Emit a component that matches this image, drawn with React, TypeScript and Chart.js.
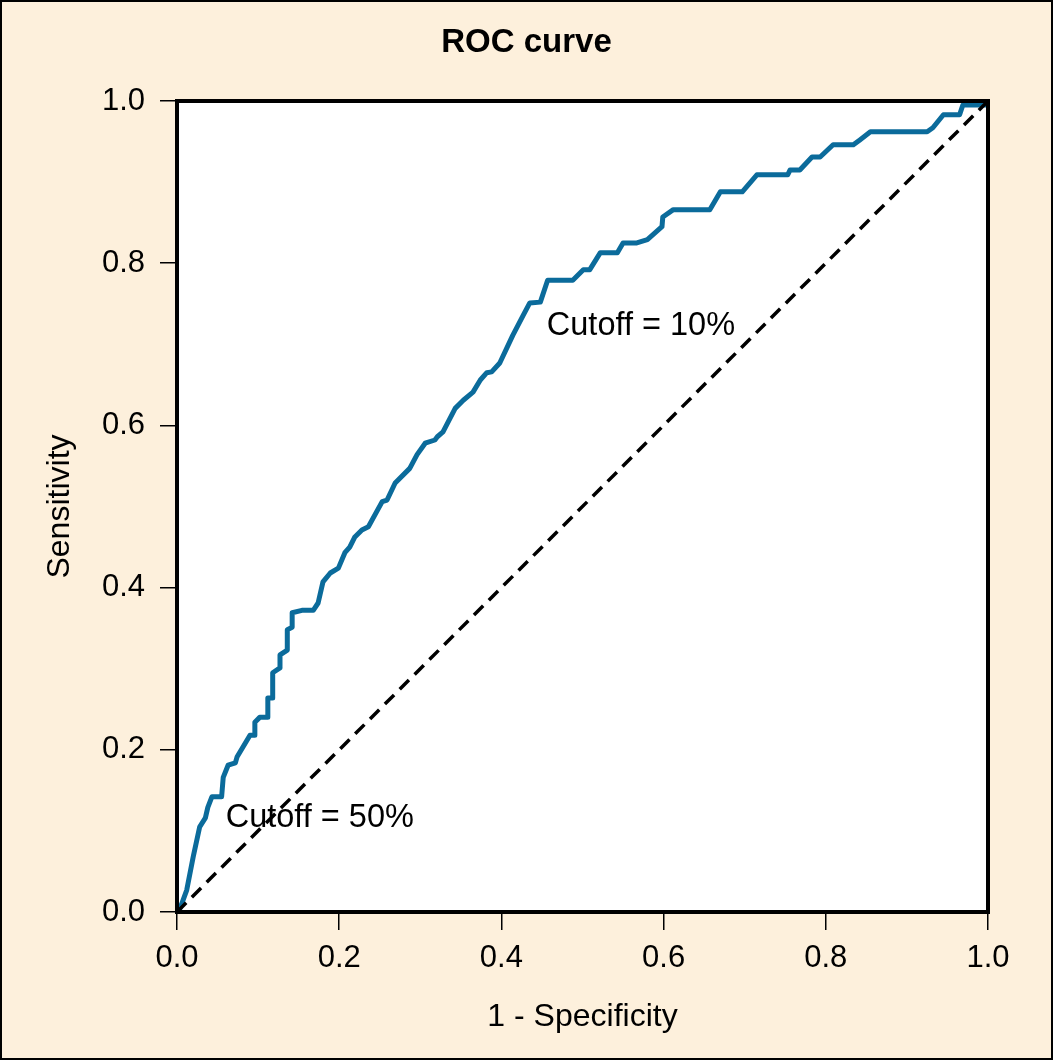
import React, { useEffect, useRef } from "react";
import { Chart, registerables } from "chart.js";

Chart.register(...registerables);

// ROC curve points (1 - specificity, sensitivity)
const fpr = [
  0, 0.004, 0.012, 0.02, 0.028, 0.035, 0.038, 0.043, 0.055, 0.057, 0.063, 0.072, 0.074,
  0.09, 0.096, 0.096, 0.102, 0.112, 0.112, 0.118, 0.118, 0.127, 0.127, 0.136, 0.136,
  0.142, 0.142, 0.154, 0.168, 0.174, 0.18, 0.189, 0.199, 0.207, 0.213, 0.219, 0.228,
  0.236, 0.253, 0.259, 0.269, 0.287, 0.296, 0.306, 0.318, 0.321, 0.328, 0.343, 0.353,
  0.365, 0.374, 0.382, 0.388, 0.398, 0.414, 0.427, 0.435, 0.448, 0.457, 0.488, 0.501,
  0.509, 0.522, 0.543, 0.55, 0.567, 0.58, 0.598, 0.599, 0.612, 0.657, 0.67, 0.697,
  0.715, 0.753, 0.756, 0.768, 0.783, 0.793, 0.809, 0.834, 0.842, 0.855, 0.925, 0.932,
  0.945, 0.965, 0.969, 0.999, 1.0,
];
const tpr = [
  0, 0.005, 0.027, 0.068, 0.105, 0.116, 0.129, 0.142, 0.142, 0.166, 0.181, 0.184, 0.191,
  0.218, 0.218, 0.234, 0.24, 0.24, 0.264, 0.264, 0.295, 0.301, 0.317, 0.323, 0.348,
  0.351, 0.369, 0.372, 0.372, 0.381, 0.407, 0.418, 0.424, 0.443, 0.45, 0.462, 0.471,
  0.475, 0.506, 0.508, 0.529, 0.547, 0.564, 0.578, 0.582, 0.586, 0.592, 0.621, 0.631,
  0.641, 0.656, 0.665, 0.666, 0.677, 0.711, 0.736, 0.751, 0.752, 0.779, 0.779, 0.792,
  0.792, 0.813, 0.813, 0.825, 0.825, 0.829, 0.845, 0.857, 0.866, 0.866, 0.888, 0.888,
  0.909, 0.909, 0.915, 0.915, 0.931, 0.931, 0.946, 0.946, 0.952, 0.962, 0.962, 0.967,
  0.983, 0.983, 0.995, 0.995, 1.0,
];

// chance line
const diagonalX = [0, 1];
const diagonalY = [0, 1];

// annotations (text baseline positions in data units)
const annotationTexts = ["Cutoff = 50%", "Cutoff = 10%"];
const annotationX = [0.06, 0.456];
const annotationY = [0.105, 0.711];

const titleText = "ROC curve";
const xTitle = "1 - Specificity";
const yTitle = "Sensitivity";

const FONT = '"Liberation Sans", Arial, Helvetica, sans-serif';
const BEIGE = "#fdf0dc";
const BLUE = "#0b6b9b";

export default function App() {
  const ref = useRef<HTMLCanvasElement | null>(null);

  useEffect(() => {
    document.body.style.margin = "0";
    const canvas = ref.current;
    if (!canvas) return;

    const framePlugin = {
      id: "frame",
      beforeDraw(chart: any) {
        const { ctx, chartArea } = chart;
        ctx.save();
        ctx.fillStyle = BEIGE;
        ctx.fillRect(0, 0, chart.width, chart.height);
        ctx.fillStyle = "#ffffff";
        ctx.fillRect(
          chartArea.left,
          chartArea.top,
          chartArea.right - chartArea.left,
          chartArea.bottom - chartArea.top
        );
        ctx.restore();
      },
      afterDraw(chart: any) {
        const { ctx, chartArea } = chart;
        ctx.save();
        ctx.strokeStyle = "#000";
        ctx.lineWidth = 4;
        ctx.strokeRect(
          chartArea.left,
          chartArea.top,
          chartArea.right - chartArea.left,
          chartArea.bottom - chartArea.top
        );
        ctx.lineWidth = 2;
        ctx.strokeRect(1, 1, chart.width - 2, chart.height - 2);
        ctx.restore();
      },
    };

    const annotationPlugin = {
      id: "annotations",
      afterDatasetsDraw(chart: any) {
        const { ctx, scales } = chart;
        ctx.save();
        ctx.font = `32.5px ${FONT}`;
        ctx.fillStyle = "#000";
        ctx.textAlign = "left";
        ctx.textBaseline = "alphabetic";
        annotationTexts.forEach((t, i) => {
          ctx.fillText(
            t,
            scales.x.getPixelForValue(annotationX[i]),
            scales.y.getPixelForValue(annotationY[i])
          );
        });
        ctx.restore();
      },
    };

    const chart = new Chart(canvas, {
      type: "line",
      data: {
        datasets: [
          {
            label: "Chance",
            data: diagonalX.map((x, i) => ({ x, y: diagonalY[i] })),
            borderColor: "#000",
            borderWidth: 3.5,
            borderDash: [13, 8],
            pointRadius: 0,
            fill: false,
            tension: 0,
          },
          {
            label: "ROC",
            data: fpr.map((x, i) => ({ x, y: tpr[i] })),
            borderColor: BLUE,
            borderWidth: 5,
            pointRadius: 0,
            fill: false,
            tension: 0,
            borderJoinStyle: "round",
            borderCapStyle: "round",
          },
        ],
      },
      options: {
        animation: false,
        responsive: false,
        maintainAspectRatio: false,
        layout: { padding: 0 },
        plugins: {
          legend: { display: false },
          tooltip: { enabled: false },
          title: {
            display: true,
            text: titleText,
            color: "#000",
            font: { family: FONT, size: 33, weight: "bold", lineHeight: 1.2 },
            padding: { top: 23, bottom: 38.4 },
          },
        },
        scales: {
          x: {
            type: "linear",
            min: 0,
            max: 1,
            afterFit(scale: any) {
              scale.height = 148;
            },
            ticks: {
              stepSize: 0.2,
              color: "#000",
              font: { family: FONT, size: 31 },
              padding: 10,
              callback: (v: any) => Number(v).toFixed(1),
              maxRotation: 0,
            },
            grid: {
              drawOnChartArea: false,
              drawTicks: true,
              tickLength: 18,
              color: "#000",
              lineWidth: 1.5,
            },
            border: { display: false },
            title: {
              display: true,
              text: xTitle,
              color: "#000",
              font: { family: FONT, size: 32, lineHeight: 1.2 },
              padding: { top: 0, bottom: 24 },
            },
          },
          y: {
            type: "linear",
            min: 0,
            max: 1,
            afterFit(scale: any) {
              scale.width = 177;
            },
            ticks: {
              stepSize: 0.2,
              color: "#000",
              font: { family: FONT, size: 31 },
              padding: 15,
              callback: (v: any) => Number(v).toFixed(1),
            },
            grid: {
              drawOnChartArea: false,
              drawTicks: true,
              tickLength: 17,
              color: "#000",
              lineWidth: 1.5,
            },
            border: { display: false },
            title: {
              display: true,
              text: yTitle,
              color: "#000",
              font: { family: FONT, size: 32, lineHeight: 1.2 },
              padding: { top: 41, bottom: 0 },
            },
          },
          yRight: {
            type: "linear",
            position: "right",
            min: 0,
            max: 1,
            display: true,
            afterFit(scale: any) {
              scale.width = 65;
            },
            ticks: { display: false },
            grid: { display: false },
            border: { display: false },
          },
        },
      },
      plugins: [framePlugin, annotationPlugin],
    } as any);

    return () => chart.destroy();
  }, []);

  return (
    <div style={{ width: 1053, height: 1060, position: "relative" }}>
      <canvas ref={ref} width={1053} height={1060} style={{ display: "block", width: 1053, height: 1060 }} />
    </div>
  );
}
